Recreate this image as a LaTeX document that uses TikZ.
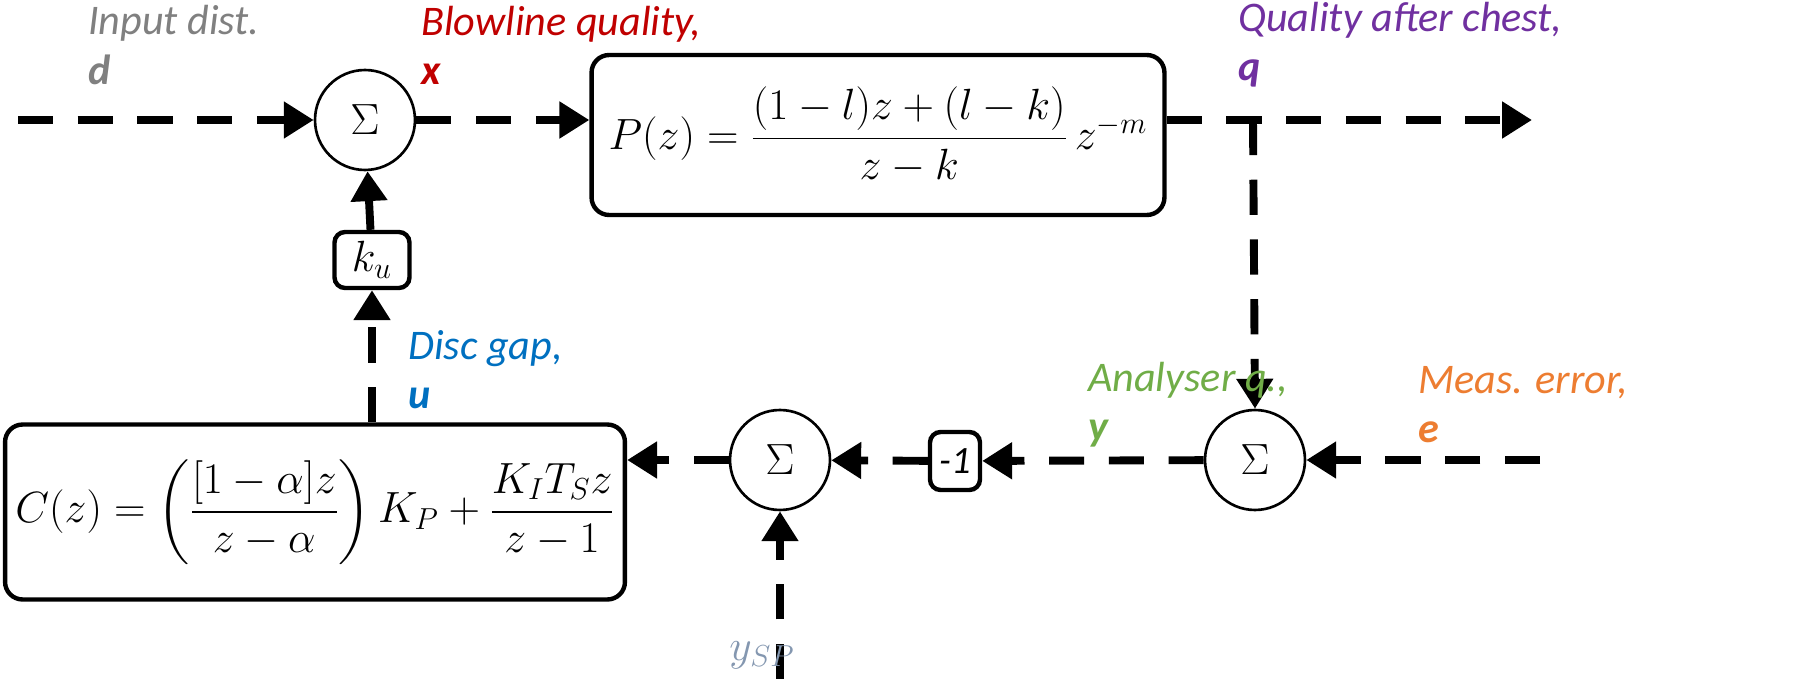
\documentclass[tikz,border=0pt]{standalone}
\usepackage{fontspec}
\setmainfont{Carlito}
\usepackage{amsmath}
\usetikzlibrary{arrows.meta}
\definecolor{cgray}{RGB}{128,128,128}
\definecolor{cred}{RGB}{192,0,0}
\definecolor{cpurple}{RGB}{112,48,160}
\definecolor{corange}{RGB}{237,125,49}
\definecolor{cgreen}{RGB}{112,173,71}
\definecolor{cblue}{RGB}{0,112,192}
\definecolor{csp}{RGB}{132,151,176}
\tikzset{
 sig/.style={line width=4.5pt,dash pattern=on 20pt off 14pt,-{Triangle[length=17pt,width=20pt]}},
 sumnode/.style={circle,draw,line width=1.5pt,minimum size=2cm,inner sep=0pt,font=\fontsize{34}{34}\selectfont},
 blk/.style={draw,line width=2.5pt,rounded corners=10pt,inner sep=0pt},
 lbl/.style={anchor=west,align=left,font=\fontsize{24}{28}\selectfont\itshape},
}
\begin{document}
\begin{tikzpicture}[x=0.02cm,y=-0.02cm]
\path[fill=white] (0,0) rectangle (1803,679);
\node[sumnode] (s1) at (365,120) {$\Sigma$};
\node[sumnode] (s2) at (780,460) {$\Sigma$};
\node[sumnode] (s3) at (1255,460) {$\Sigma$};
\node[blk,minimum width=11.46cm,minimum height=3.2cm] (P) at (878,135) {\fontsize{24}{28}\selectfont$P(z)=\dfrac{(1-l)z+(l-k)}{z-k}\,z^{-m}$};
\node[blk,minimum width=12.4cm,minimum height=3.5cm] (C) at (315,512) {\fontsize{24}{28}\selectfont$C(z)=\left(\dfrac{[1-\alpha]z}{z-\alpha}\right)K_P+\dfrac{K_IT_Sz}{z-1}$};
\node[blk,rounded corners=6pt,minimum width=1.5cm,minimum height=1.12cm] (ku) at (372,260) {\fontsize{24}{28}\selectfont$k_u$};
\node[blk,rounded corners=6pt,minimum width=1.0cm,minimum height=1.16cm] (m1) at (955,461) {\fontsize{22}{26}\selectfont\itshape -1};
\coordinate (in) at (18,120);
\coordinate (out) at (1532,120);
\coordinate (br) at (1253,120);
\coordinate (ein) at (1540,460);
\coordinate (ysp) at (780,679);
\draw[sig] (in) -- (s1);
\draw[sig] (s1) -- (P.west |- s1);
\draw[sig] (P.east |- out) -- (out);
\draw[sig] (br) -- (s3.north);
\draw[sig] (ein) -- (s3);
\draw[sig] (s3) -- (m1);
\draw[sig] (m1) -- (s2);
\draw[sig] (s2) -- (C.east |- s2);
\draw[sig] (ysp) -- (s2);
\draw[sig] (C.north -| ku) -- (ku);
\draw[sig] (ku) -- (s1);
\node[lbl,text=cgray] (l1) at (82,45) {Input dist.\\\textbf{d}};
\node[lbl,text=cred] (l2) at (415,45) {Blowline quality,\\\textbf{x}};
\node[lbl,text=cpurple] (l3) at (1232,45) {Quality after chest,\\\textbf{q}};
\node[lbl,text=cblue] (l4) at (402,370) {Disc gap,\\\textbf{u}};
\node[lbl,text=cgreen] (l5) at (1082,405) {Analyser q.,\\\textbf{y}};
\node[lbl,text=corange] (l6) at (1412,405) {Meas. error,\\\textbf{e}};
\node[text=csp,font=\fontsize{24}{28}\selectfont] (l7) at (762,655) {$y_{SP}$};
\pgfresetboundingbox
\useasboundingbox (0,0) rectangle (1803,679);
\end{tikzpicture}
\end{document}
